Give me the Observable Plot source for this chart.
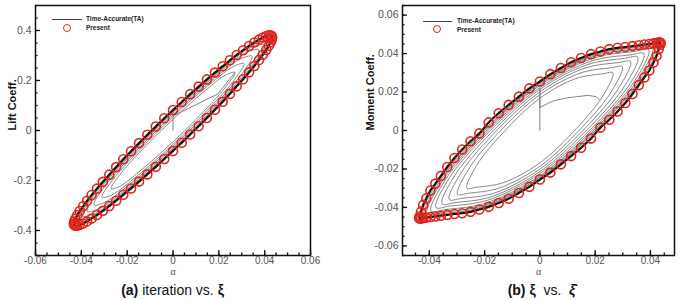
<!DOCTYPE html>
<html><head><meta charset="utf-8">
<script src="https://cdn.jsdelivr.net/npm/d3@7"></script>
<script src="https://cdn.jsdelivr.net/npm/@observablehq/plot@0.6"></script>
<style>
body{margin:0;background:#fff;font-family:"Liberation Sans",Arial,sans-serif;}
#wrap{position:relative;width:685px;height:300px;overflow:hidden;background:#fff;}
.panel{position:absolute;top:0;}
.cap{position:absolute;top:281px;height:18px;line-height:18px;font-size:14px;color:#111;white-space:nowrap;transform:translateX(-50%);}
.leg{position:absolute;font-size:6.5px;font-weight:bold;color:#222;line-height:8px;white-space:nowrap;}
.legline{position:absolute;height:0;border-top:1px solid #444;}
.legcirc{position:absolute;width:6px;height:6px;border:1.5px solid #e0251b;border-radius:50%;}
</style></head>
<body><div id="wrap">
<div id="pa" class="panel" style="left:0"></div>
<div id="pb" class="panel" style="left:340px"></div>
<div class="legline" style="left:52px;top:19px;width:30px"></div>
<div class="leg" style="left:86px;top:15px">Time-Accurate(TA)</div>
<div class="legcirc" style="left:62.5px;top:23.5px"></div>
<div class="leg" style="left:86px;top:24px">Present</div>
<div class="legline" style="left:423px;top:21px;width:29px"></div>
<div class="leg" style="left:457px;top:17px">Time-Accurate(TA)</div>
<div class="legcirc" style="left:433px;top:25px"></div>
<div class="leg" style="left:457px;top:26px">Present</div>
<div class="cap" style="left:172.5px"><b>(a)</b> iteration vs. <b>ξ</b></div>
<div class="cap" style="left:541.5px"><b>(b) ξ</b> &nbsp;vs. &nbsp;<i><b>ξ̇</b></i></div>
</div>
<script>
// ---- Panel (a): Lift coefficient vs alpha ----
const presentLiftAlpha = [0, .0038, .0075, .0112, .0148, .0183, .0217, .0248, .0278, .0306, .0332, .0355, .0375, .0392, .0407, .0418, .0426, .0431, .0433,
 .0431, .0426, .0418, .0407, .0392, .0375, .0355, .0332, .0306, .0278, .0248, .0217, .0183, .0148, .0112, .0075, .0038,
 0, -.0038, -.0075, -.0112, -.0148, -.0183, -.0217, -.0248, -.0278, -.0306, -.0332, -.0355, -.0375, -.0392, -.0407, -.0418, -.0426, -.0431, -.0433,
 -.0431, -.0426, -.0418, -.0407, -.0392, -.0375, -.0355, -.0332, -.0306, -.0278, -.0248, -.0217, -.0183, -.0148, -.0112, -.0075, -.0038];
const presentLift = [.082, .1142, .1454, .1756, .2044, .2317, .2572, .2808, .3022, .3213, .3380, .3521, .3635, .3722, .3780, .3809, .3810, .3781, .3724,
 .3638, .3525, .3385, .3219, .3029, .2815, .2580, .2326, .2053, .1766, .1464, .1152, .0831, .0503, .0172, -.0161, -.0492,
 -.082, -.1142, -.1454, -.1756, -.2044, -.2317, -.2572, -.2808, -.3022, -.3213, -.3380, -.3521, -.3635, -.3722, -.3780, -.3809, -.3810, -.3781, -.3724,
 -.3638, -.3525, -.3385, -.3219, -.3029, -.2815, -.2580, -.2326, -.2053, -.1766, -.1464, -.1152, -.0831, -.0503, -.0172, .0161, .0492];
const taLiftAlpha = [
 [0,.0135,.0234,.027,.0234,.0135,0,-.0135,-.0234,-.027,-.0234,-.0135],
 [0,.0155,.0268,.031,.0268,.0155,0,-.0155,-.0268,-.031,-.0268,-.0155],
 [0,.0173,.0299,.0345,.0299,.0173,0,-.0173,-.0299,-.0345,-.0299,-.0173],
 [0,.0188,.0325,.0375,.0325,.0188,0,-.0188,-.0325,-.0375,-.0325,-.0188],
 [0,.0199,.0345,.0398,.0345,.0199,0,-.0199,-.0345,-.0398,-.0345,-.0199],
 [0,.0207,.0358,.0413,.0358,.0207,0,-.0207,-.0358,-.0413,-.0358,-.0207],
 [0,.0212,.0366,.0423,.0366,.0212,0,-.0212,-.0366,-.0423,-.0366,-.0212],
 [0,.0215,.0372,.0429,.0372,.0215,0,-.0215,-.0372,-.0429,-.0372,-.0215]];
const taLift = [
 [.045,.155,.224,.232,.179,.077,-.045,-.155,-.224,-.232,-.179,-.077],
 [.055,.181,.258,.267,.203,.086,-.055,-.181,-.258,-.267,-.203,-.086],
 [.063,.203,.288,.297,.225,.094,-.063,-.203,-.288,-.297,-.225,-.094],
 [.070,.222,.314,.323,.244,.101,-.070,-.222,-.314,-.323,-.244,-.101],
 [.075,.236,.334,.342,.259,.106,-.075,-.236,-.334,-.342,-.259,-.106],
 [.078,.245,.347,.355,.269,.110,-.078,-.245,-.347,-.355,-.269,-.110],
 [.080,.251,.355,.364,.275,.113,-.080,-.251,-.355,-.364,-.275,-.113],
 [.081,.255,.360,.369,.279,.114,-.081,-.255,-.360,-.369,-.279,-.114]];
const taLiftStartAlpha = [0, 0, 0.0195, 0.0255, 0.027];
const taLiftStart = [0, 0.058, 0.146, 0.215, 0.232];
const xTicksLift = [-0.06, -0.04, -0.02, 0, 0.02, 0.04, 0.06];
const yTicksLift = [-0.4, -0.2, 0, 0.2, 0.4];

// ---- Panel (b): Moment coefficient vs alpha ----
const presentMomAlpha = [0, .0038, .0076, .0113, .0149, .0185, .0219, .0251, .0281, .0309, .0335, .0358, .0378, .0396, .0411, .0422, .0430, .0435, .0437,
 .0435, .0430, .0422, .0411, .0396, .0378, .0358, .0335, .0309, .0281, .0251, .0219, .0185, .0149, .0113, .0076, .0038,
 0, -.0038, -.0076, -.0113, -.0149, -.0185, -.0219, -.0251, -.0281, -.0309, -.0335, -.0358, -.0378, -.0396, -.0411, -.0422, -.0430, -.0435, -.0437,
 -.0435, -.0430, -.0422, -.0411, -.0396, -.0378, -.0358, -.0335, -.0309, -.0281, -.0251, -.0219, -.0185, -.0149, -.0113, -.0076, -.0038];
const presentMom = [.0255, .0293, .0325, .0355, .0377, .0397, .0411, .0423, .0430, .0434, .0439, .0443, .0447, .0450, .0453, .0455, .0458, .0457, .0455,
 .0446, .0422, .0387, .0353, .0312, .0276, .0236, .0190, .0143, .0099, .0056, .0015, -.0042, -.0090, -.0133, -.0176, -.0219,
 -.0255, -.0293, -.0325, -.0355, -.0377, -.0397, -.0411, -.0423, -.0430, -.0434, -.0439, -.0443, -.0447, -.0450, -.0453, -.0455, -.0458, -.0457, -.0455,
 -.0446, -.0422, -.0387, -.0353, -.0312, -.0276, -.0236, -.0190, -.0143, -.0099, -.0056, -.0015, .0042, .0090, .0133, .0176, .0219];
const taMomAlpha = [
 [0,.0132,.0229,.0264,.0229,.0132,0,-.0132,-.0229,-.0264,-.0229,-.0132],
 [0,.0149,.0258,.0298,.0258,.0149,0,-.0149,-.0258,-.0298,-.0258,-.0149],
 [0,.0164,.0284,.0328,.0284,.0164,0,-.0164,-.0284,-.0328,-.0284,-.0164],
 [0,.0177,.0307,.0354,.0307,.0177,0,-.0177,-.0307,-.0354,-.0307,-.0177],
 [0,.0188,.0326,.0376,.0326,.0188,0,-.0188,-.0326,-.0376,-.0326,-.0188],
 [0,.0197,.0341,.0394,.0341,.0197,0,-.0197,-.0341,-.0394,-.0341,-.0197],
 [0,.0204,.0353,.0408,.0353,.0204,0,-.0204,-.0353,-.0408,-.0353,-.0204],
 [0,.0210,.0363,.0419,.0363,.0210,0,-.0210,-.0363,-.0419,-.0363,-.0210],
 [0,.0214,.0371,.0428,.0371,.0214,0,-.0214,-.0371,-.0428,-.0371,-.0214]];
const taMom = [
 [.0168,.0271,.0295,.0300,.0182,.0010,-.0168,-.0271,-.0295,-.0300,-.0182,-.0010],
 [.0186,.0300,.0326,.0332,.0201,.0011,-.0186,-.0300,-.0326,-.0332,-.0201,-.0011],
 [.0201,.0325,.0353,.0359,.0218,.0012,-.0201,-.0325,-.0353,-.0359,-.0218,-.0012],
 [.0214,.0345,.0375,.0382,.0232,.0013,-.0214,-.0345,-.0375,-.0382,-.0232,-.0013],
 [.0224,.0362,.0393,.0400,.0243,.0013,-.0224,-.0362,-.0393,-.0400,-.0243,-.0013],
 [.0235,.0378,.0411,.0419,.0254,.0014,-.0235,-.0378,-.0411,-.0419,-.0254,-.0014],
 [.0242,.0390,.0425,.0432,.0262,.0014,-.0242,-.0390,-.0425,-.0432,-.0262,-.0014],
 [.0247,.0399,.0434,.0441,.0268,.0015,-.0247,-.0399,-.0434,-.0441,-.0268,-.0015],
 [.0252,.0407,.0443,.0450,.0273,.0015,-.0252,-.0407,-.0443,-.0450,-.0273,-.0015]];
const taMomStartAlpha = [0, 0, 0, 0.005, 0.010, 0.0175, 0.0205, 0.0215];
const taMomStart = [0, 0.022, 0.012, 0.0155, 0.017, 0.0183, 0.0175, 0.016];
const xTicksMom = [-0.04, -0.02, 0, 0.02, 0.04];
const yTicksMom = [-0.06, -0.04, -0.02, 0, 0.02, 0.04, 0.06];

function panel(o) {
  const height = 280, mt = 5, mb = 25;
  const innerW = o.width - o.ml - o.mr, innerH = height - mt - mb;
  const ux = (o.xDom[1] - o.xDom[0]) / innerW, uy = (o.yDom[1] - o.yDom[0]) / innerH;
  const circles = o.circA.map((a, i) => ({a, v: o.circV[i]}));
  const loops = o.loopsA.flatMap((arr, k) => arr.map((a, i) => ({k, a, v: o.loopsV[k][i]})));
  const start = o.startA.map((a, i) => ({a, v: o.startV[i]}));
  const fmt = d => String(d);
  const tick = {stroke: "#111", strokeWidth: 1.3};
  return Plot.plot({
    width: o.width, height, marginLeft: o.ml, marginRight: o.mr, marginTop: mt, marginBottom: mb,
    x: {domain: o.xDom, axis: null}, y: {domain: o.yDom, axis: null},
    style: {fontFamily: "Liberation Sans, Arial, sans-serif", fontSize: "10px", background: "white", overflow: "visible"},
    marks: [
      Plot.line(loops, {x: "a", y: "v", z: "k", curve: "catmull-rom-closed", stroke: "#6a6a6a", strokeWidth: 0.8}),
      Plot.line(start, {x: "a", y: "v", stroke: "#777", strokeWidth: 0.9}),
      Plot.line(circles, {x: "a", y: "v", curve: "catmull-rom-closed", stroke: "#111", strokeWidth: 2.2}),
      Plot.dot(circles, {x: "a", y: "v", r: 4.5, stroke: "#e0251b", strokeWidth: 1.6, fill: "none"}),
      Plot.ruleX(o.xTicks, {x: d => d, y1: o.yDom[0], y2: o.yDom[0] + 5 * uy, ...tick}),
      Plot.ruleX(o.xMinor, {x: d => d, y1: o.yDom[0], y2: o.yDom[0] + 2.5 * uy, ...tick}),
      Plot.ruleY(o.yTicks, {y: d => d, x1: o.xDom[0], x2: o.xDom[0] + 5 * ux, ...tick}),
      Plot.ruleY(o.yMinor, {y: d => d, x1: o.xDom[0], x2: o.xDom[0] + 2.5 * ux, ...tick}),
      Plot.frame({stroke: "#111", strokeWidth: 1.5}),
      Plot.axisX(o.xTicks, {tickSize: 0, tickPadding: 1.5, tickFormat: fmt, color: "#555", label: null}),
      Plot.axisY(o.yTicks, {tickSize: 0, tickPadding: 4, tickFormat: fmt, color: "#555", label: null, fontSize: 10.5}),
      Plot.text(["α"], {text: d => d, frameAnchor: "bottom", dy: 19.5, fontFamily: "Liberation Serif, serif", fontSize: 10, fill: "#555"}),
      Plot.text([o.ylabel], {text: d => d, frameAnchor: "left", rotate: -90, dx: o.ylabelX - o.ml, fontWeight: "bold", fontSize: 11, fill: "#111"})
    ]
  });
}

document.getElementById("pa").append(panel({
  width: 340, ml: 35, mr: 30, xDom: [-0.06, 0.06], yDom: [-0.5, 0.5],
  xTicks: xTicksLift, yTicks: yTicksLift,
  xMinor: d3.range(-0.06, 0.0601, 0.005), yMinor: d3.range(-0.5, 0.501, 0.05),
  circA: presentLiftAlpha, circV: presentLift, loopsA: taLiftAlpha, loopsV: taLift,
  startA: taLiftStartAlpha, startV: taLiftStart, ylabel: "Lift Coeff.", ylabelX: 11.5
}));
document.getElementById("pb").append(panel({
  width: 345, ml: 62, mr: 11, xDom: [-0.0497, 0.0487], yDom: [-0.065, 0.065],
  xTicks: xTicksMom, yTicks: yTicksMom,
  xMinor: d3.range(-0.045, 0.0451, 0.005), yMinor: d3.range(-0.065, 0.0651, 0.005),
  circA: presentMomAlpha, circV: presentMom, loopsA: taMomAlpha, loopsV: taMom,
  startA: taMomStartAlpha, startV: taMomStart, ylabel: "Moment Coeff.", ylabelX: 29.5
}));
</script>
</body></html>
